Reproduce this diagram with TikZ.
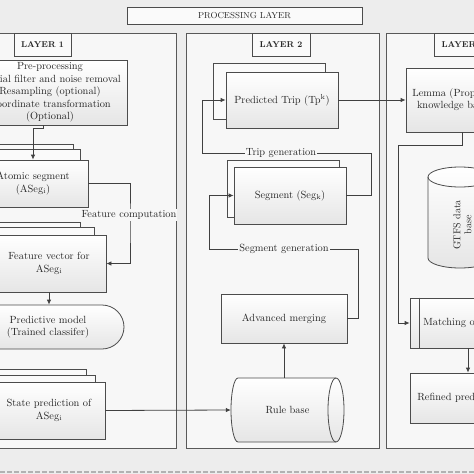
\documentclass[tikz,border=0pt]{standalone}
\usetikzlibrary{arrows.meta,shadows,calc}
\begin{document}
\begin{tikzpicture}[x=1pt,y=-1pt,
  font=\fontsize{10.4}{12.6}\selectfont,
  every node/.style={text=black!85},
  ln/.style={draw=black!70, line width=0.8pt},
  box/.style={ln, rectangle, inner sep=0pt, align=center, top color=white, bottom color=black!10},
  backbox/.style={ln, rectangle, inner sep=0pt, fill=black!2},
  panel/.style={draw=black!65, line width=0.8pt, fill=black!3, rectangle, inner sep=0pt},
  lab/.style={draw=black!70, line width=0.8pt, fill=black!2, rectangle, inner sep=0pt,
    drop shadow={shadow xshift=1pt, shadow yshift=-1pt, opacity=0.35}},
  arr/.style={draw=black!75, line width=0.8pt, -{Latex[length=5pt,width=4.5pt]}},
  con/.style={draw=black!75, line width=0.8pt},
  tag/.style={fill=black!3, inner sep=1pt}
]
\path[use as bounding box, fill=black!7] (0,0) rectangle (474,474);
\clip (0,0) rectangle (474,474);

% bottom dashed line
\draw[black!30, line width=2.5pt, dash pattern=on 5pt off 2pt] (0,472) -- (474,472);

% title
\node[lab, minimum width=235pt, minimum height=17pt, font=\fontsize{8.7}{10}\selectfont] (proc) at (244.5,15.5) {PROCESSING LAYER};

% panels
\node[panel, minimum width=216pt, minimum height=415pt] (p1) at (68,240.5) {};
\node[panel, minimum width=193pt, minimum height=415pt] (p2) at (282.5,240.5) {};
\node[panel, minimum width=214pt, minimum height=415pt] (p3) at (493,240.5) {};

\node[lab, minimum width=57pt, minimum height=23pt, font=\fontsize{8.5}{10}\selectfont\bfseries] (lab1) at (42.5,44.5) {LAYER 1};
\node[lab, minimum width=58pt, minimum height=23pt, font=\fontsize{8.5}{10}\selectfont\bfseries] (lab2) at (281,44.5) {LAYER 2};
\node[lab, minimum width=57pt, minimum height=23pt, font=\fontsize{8.5}{10}\selectfont\bfseries] (lab3) at (463,44.5) {LAYER 3};

% ---------- LAYER 1 ----------
\node[box, minimum width=154pt, minimum height=65pt] (pre) at (50,92.5)
  {Pre-processing\\Spatial filter and noise removal\\Resampling (optional)\\Coordinate transformation\\(Optional)};

\node[backbox, minimum width=110pt, minimum height=47pt] (atomb2) at (18,167.5) {};
\node[backbox, minimum width=110pt, minimum height=47pt] (atomb1) at (25,172.5) {};
\node[box, minimum width=110pt, minimum height=47pt] (atom) at (33,183.5) {Atomic segment\\(ASeg\textsubscript{i})};

\node[backbox, minimum width=114pt, minimum height=57pt] (featb2) at (23,250.5) {};
\node[backbox, minimum width=114pt, minimum height=57pt] (featb1) at (37,255.5) {};
\node[box, minimum width=114pt, minimum height=57pt] (feat) at (49,263.5) {Feature vector for\\ASeg\textsubscript{i}};

\node[box, rounded corners=22pt, minimum width=152pt, minimum height=44pt] (pred) at (48,327) {Predictive model\\(Trained classifer)};

\node[backbox, minimum width=112pt, minimum height=57pt] (stateb2) at (30,397.5) {};
\node[backbox, minimum width=112pt, minimum height=57pt] (stateb1) at (39,403.5) {};
\node[box, minimum width=112pt, minimum height=57pt] (state) at (49,410.5) {State prediction of\\ASeg\textsubscript{i}};

% ---------- LAYER 2 ----------
\node[backbox, minimum width=112pt, minimum height=56pt] (tripb) at (269,91) {};
\node[box, minimum width=112pt, minimum height=56pt] (trip) at (282,100) {Predicted Trip (Tp\textsuperscript{k})};

\node[backbox, minimum width=112pt, minimum height=57pt] (segb) at (283,188.5) {};
\node[box, minimum width=112pt, minimum height=57pt] (seg) at (290,195.5) {Segment (Seg\textsubscript{k})};

\node[box, minimum width=126pt, minimum height=49pt] (merge) at (284,318.5) {Advanced merging};

% rule base cylinder (horizontal)
\draw[ln, top color=white, bottom color=black!10] (238,378) -- (336,378)
  arc[start angle=90, end angle=-90, x radius=8pt, y radius=32pt] -- (238,442)
  arc[start angle=270, end angle=90, x radius=7pt, y radius=32pt] -- cycle;
\draw[ln] (336,378) arc[start angle=90, end angle=270, x radius=8pt, y radius=32pt];
\node[minimum width=113pt, minimum height=64pt, inner sep=0pt] (rule) at (287.5,410) {Rule base};

% ---------- LAYER 3 ----------
\node[box, minimum width=96pt, minimum height=64pt] (lemma) at (454,100) {Lemma (Proposed\\knowledge base)};

% GTFS cylinder (vertical)
\draw[ln, top color=white, bottom color=black!10] (428,177) -- (428,258)
  arc[start angle=180, end angle=360, x radius=32pt, y radius=10pt] -- (492,177)
  arc[start angle=0, end angle=180, x radius=32pt, y radius=10pt] -- cycle;
\draw[ln] (428,177) arc[start angle=180, end angle=360, x radius=32pt, y radius=10pt];
\node[rotate=90, align=center, inner sep=0pt, font=\fontsize{10}{11}\selectfont] (gtfs) at (462.5,225) {GTFS data\\base};

\node[box, minimum width=116pt, minimum height=50pt] (match) at (468,323) {Matching operation};
\draw[ln] ([xshift=10pt]match.north west) -- ([xshift=10pt]match.south west);

\node[box, minimum width=98pt, minimum height=50pt] (refined) at (459,398) {Refined prediction};

% ---------- connectors ----------
\draw[arr] ([xshift=-7pt]pre.south) -- ++(0,3) -| (atom.north);

\coordinate (fc) at (130,223);
\draw[arr] (atom.east) -| (fc) |- (feat.east);
\node[tag] (fclab) at (129,215) {Feature computation};

\draw[arr] (feat.south) -- (feat.south |- pred.north);

\draw[arr] (state.east) -- (rule.west);

\draw[arr] (merge.south |- rule.north) -- (merge.south);

\coordinate (sgR) at (358,249);
\coordinate (sgL) at (209,249);
\draw[arr] (merge.east) -| (sgR) -- (sgL) |- (seg.west);
\node[tag] (sglab) at (284,249) {Segment generation};

\coordinate (tgR) at (371,153);
\coordinate (tgL) at (202,153);
\draw[arr] (seg.east) -| (tgR) -- (tgL) |- (trip.west);
\node[tag] (tglab) at (281,153) {Trip generation};

\draw[arr] (trip.east) -- (lemma.west);

\coordinate (lm) at (398,145);
\draw[arr] ([xshift=8pt]lemma.south) |- (lm) |- (match.west);

\draw[arr] (match.south) -- (match.south |- refined.north);
\end{tikzpicture}
\end{document}
